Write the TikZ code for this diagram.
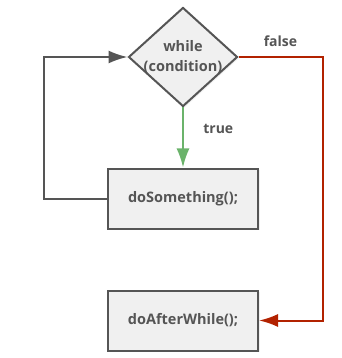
\documentclass[tikz,border=0pt]{standalone}
\usepackage{fontspec}
\setmainfont{Open Sans}
\usetikzlibrary{arrows.meta, positioning, shapes.geometric, shadows}
\definecolor{linegray}{HTML}{555555}
\definecolor{boxfill}{HTML}{F0F0F0}
\definecolor{truegreen}{HTML}{6BB36B}
\definecolor{falsered}{HTML}{B22200}

\begin{document}
\begin{tikzpicture}[
    x=1pt, y=-1pt,
    >={Latex[length=19pt, width=13pt]},
    box/.style ={draw=linegray, line width=2pt, fill=boxfill, text=linegray,
                 minimum width=150pt, minimum height=60pt,
                 font=\bfseries\fontsize{14.5}{20}\selectfont,
                 drop shadow={opacity=0.12, shadow xshift=1.5pt, shadow yshift=-1.5pt}},
    cond/.style={box, diamond, align=center, inner sep=-8pt, shape aspect=1.1,
                 minimum width=109pt, minimum height=99pt},
    flow/.style={->, line width=2pt},
    lbl/.style ={font=\bfseries\fontsize{14}{16}\selectfont, text=linegray},
]
\useasboundingbox (0,0) rectangle (341,358);
% loop test
\node[cond] (while) at (183,57) {while\\(condition)};
% loop body and what follows
\node[box, below=60pt of while] (body) {doSomething();};
\node[box, below=60pt of body] (after) {doAfterWhile();};
\draw[flow, truegreen] (while.south) -- node[lbl, right=16pt, pos=0.35]{true} (body.north);
\draw[flow, linegray] (body.west) -- ++(-63,0) |- (while.west);
\draw[flow, falsered] (while.east) -- node[lbl, above=6pt]{false} ++(84,0) |- (after.east);
\end{tikzpicture}
\end{document}
